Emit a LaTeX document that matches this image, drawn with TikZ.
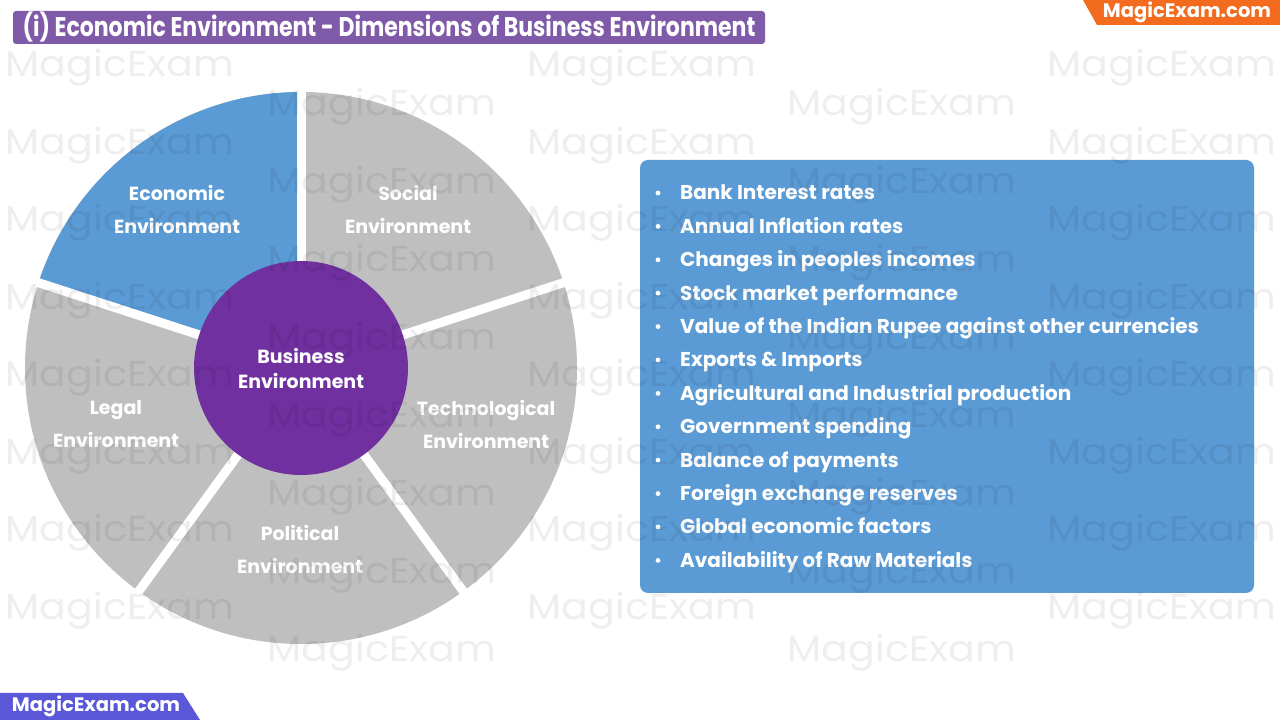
\documentclass[tikz,border=0pt]{standalone}
\usepackage{fontspec}
\setmainfont{Poppins}
\definecolor{piegray}{HTML}{BFBFBF}
\definecolor{econblue}{HTML}{5B9BD5}
\definecolor{corepurple}{HTML}{7030A0}
\definecolor{titlepurple}{HTML}{7F5AA8}
\definecolor{badgeorange}{HTML}{F26B1F}
\definecolor{badgeblue}{HTML}{5A57D8}
\begin{document}
\begin{tikzpicture}[x=1pt,y=1pt,
  sectorlabel/.style={text=white,align=center,font=\bfseries\fontsize{19}{33}\selectfont},
  core/.style={circle,fill=corepurple,minimum size=214pt,inner sep=0pt,text=white,align=center,
    font=\bfseries\fontsize{19}{25}\selectfont},
  itemtext/.style={text=white,anchor=base west,inner sep=0pt,font=\bfseries\fontsize{20}{20}\selectfont},
  badge/.style={text=white,font=\bfseries\fontsize{19.5}{20}\selectfont},
  watermark/.style={text=black,text opacity=0.065,font=\fontsize{36}{36}\selectfont}]
\useasboundingbox (0,0) rectangle (1280,720);
% title bar
\fill[titlepurple,rounded corners=3pt] (13,676) rectangle (765,709);
\node[text=white,font=\bfseries\fontsize{27}{27}\selectfont] (title) at (389,692.5)
  {\scalebox{0.815}[1]{(i) Economic Environment - Dimensions of Business Environment}};
% badges
\fill[badgeorange] (1083,720) -- (1280,720) -- (1280,695) -- (1097,695) -- cycle;
\node[badge] (sitetop) at (1187,708) {MagicExam.com};
\fill[badgeblue] (0,27) -- (183,27) -- (200,0) -- (0,0) -- cycle;
\node[badge] (sitebottom) at (96,14) {MagicExam.com};
% pie of environments
\begin{scope}[shift={(301,352)}]
\fill[piegray] (0,0) circle (276);
\fill[econblue] (0,0) -- (90:276) arc (90:162:276) -- cycle;
\foreach \a in {18,90,162,234,306}
  \draw[white,line width=9pt] (0,0) -- (\a:290);
\node[core] (core) at (0,0) {Business\\Environment};
\node[sectorlabel] (econ) at (-124,158.5) {Economic\\Environment};
\node[sectorlabel] (social) at (107,158.5) {Social\\Environment};
\node[sectorlabel] (tech) at (185,-56.5) {Technological\\Environment};
\node[sectorlabel] (pol) at (-1,-181) {Political\\Environment};
\node[sectorlabel] (legal) at (-185,-56.5) {Legal\\Environment};
\end{scope}
% factor list
\fill[econblue,rounded corners=8pt] (640,127) rectangle (1254,560);
\foreach \t [count=\i] in {Bank Interest rates,Annual Inflation rates,Changes in peoples incomes,
  Stock market performance,Value of the Indian Rupee against other currencies,Exports \& Imports,
  Agricultural and Industrial production,Government spending,Balance of payments,
  Foreign exchange reserves,Global economic factors,Availability of Raw Materials}
{
  \fill[white] (658,{527-33.4*(\i-1)}) circle (2.4);
  \node[itemtext] (item\i) at (680,{520-33.4*(\i-1)}) {\t};
}
% watermarks
\foreach \c in {120,642,1162}
  \foreach \r in {0,...,7}
    \node[watermark] (wm-\c-\r) at (\c,{652-77.5*\r}) {\scalebox{1.1}[1]{MagicExam}};
\foreach \c in {382,902}
  \foreach \r in {0,...,7}
    \node[watermark] (wm-\c-\r) at (\c,{613-78*\r}) {\scalebox{1.1}[1]{MagicExam}};
\end{tikzpicture}
\end{document}
